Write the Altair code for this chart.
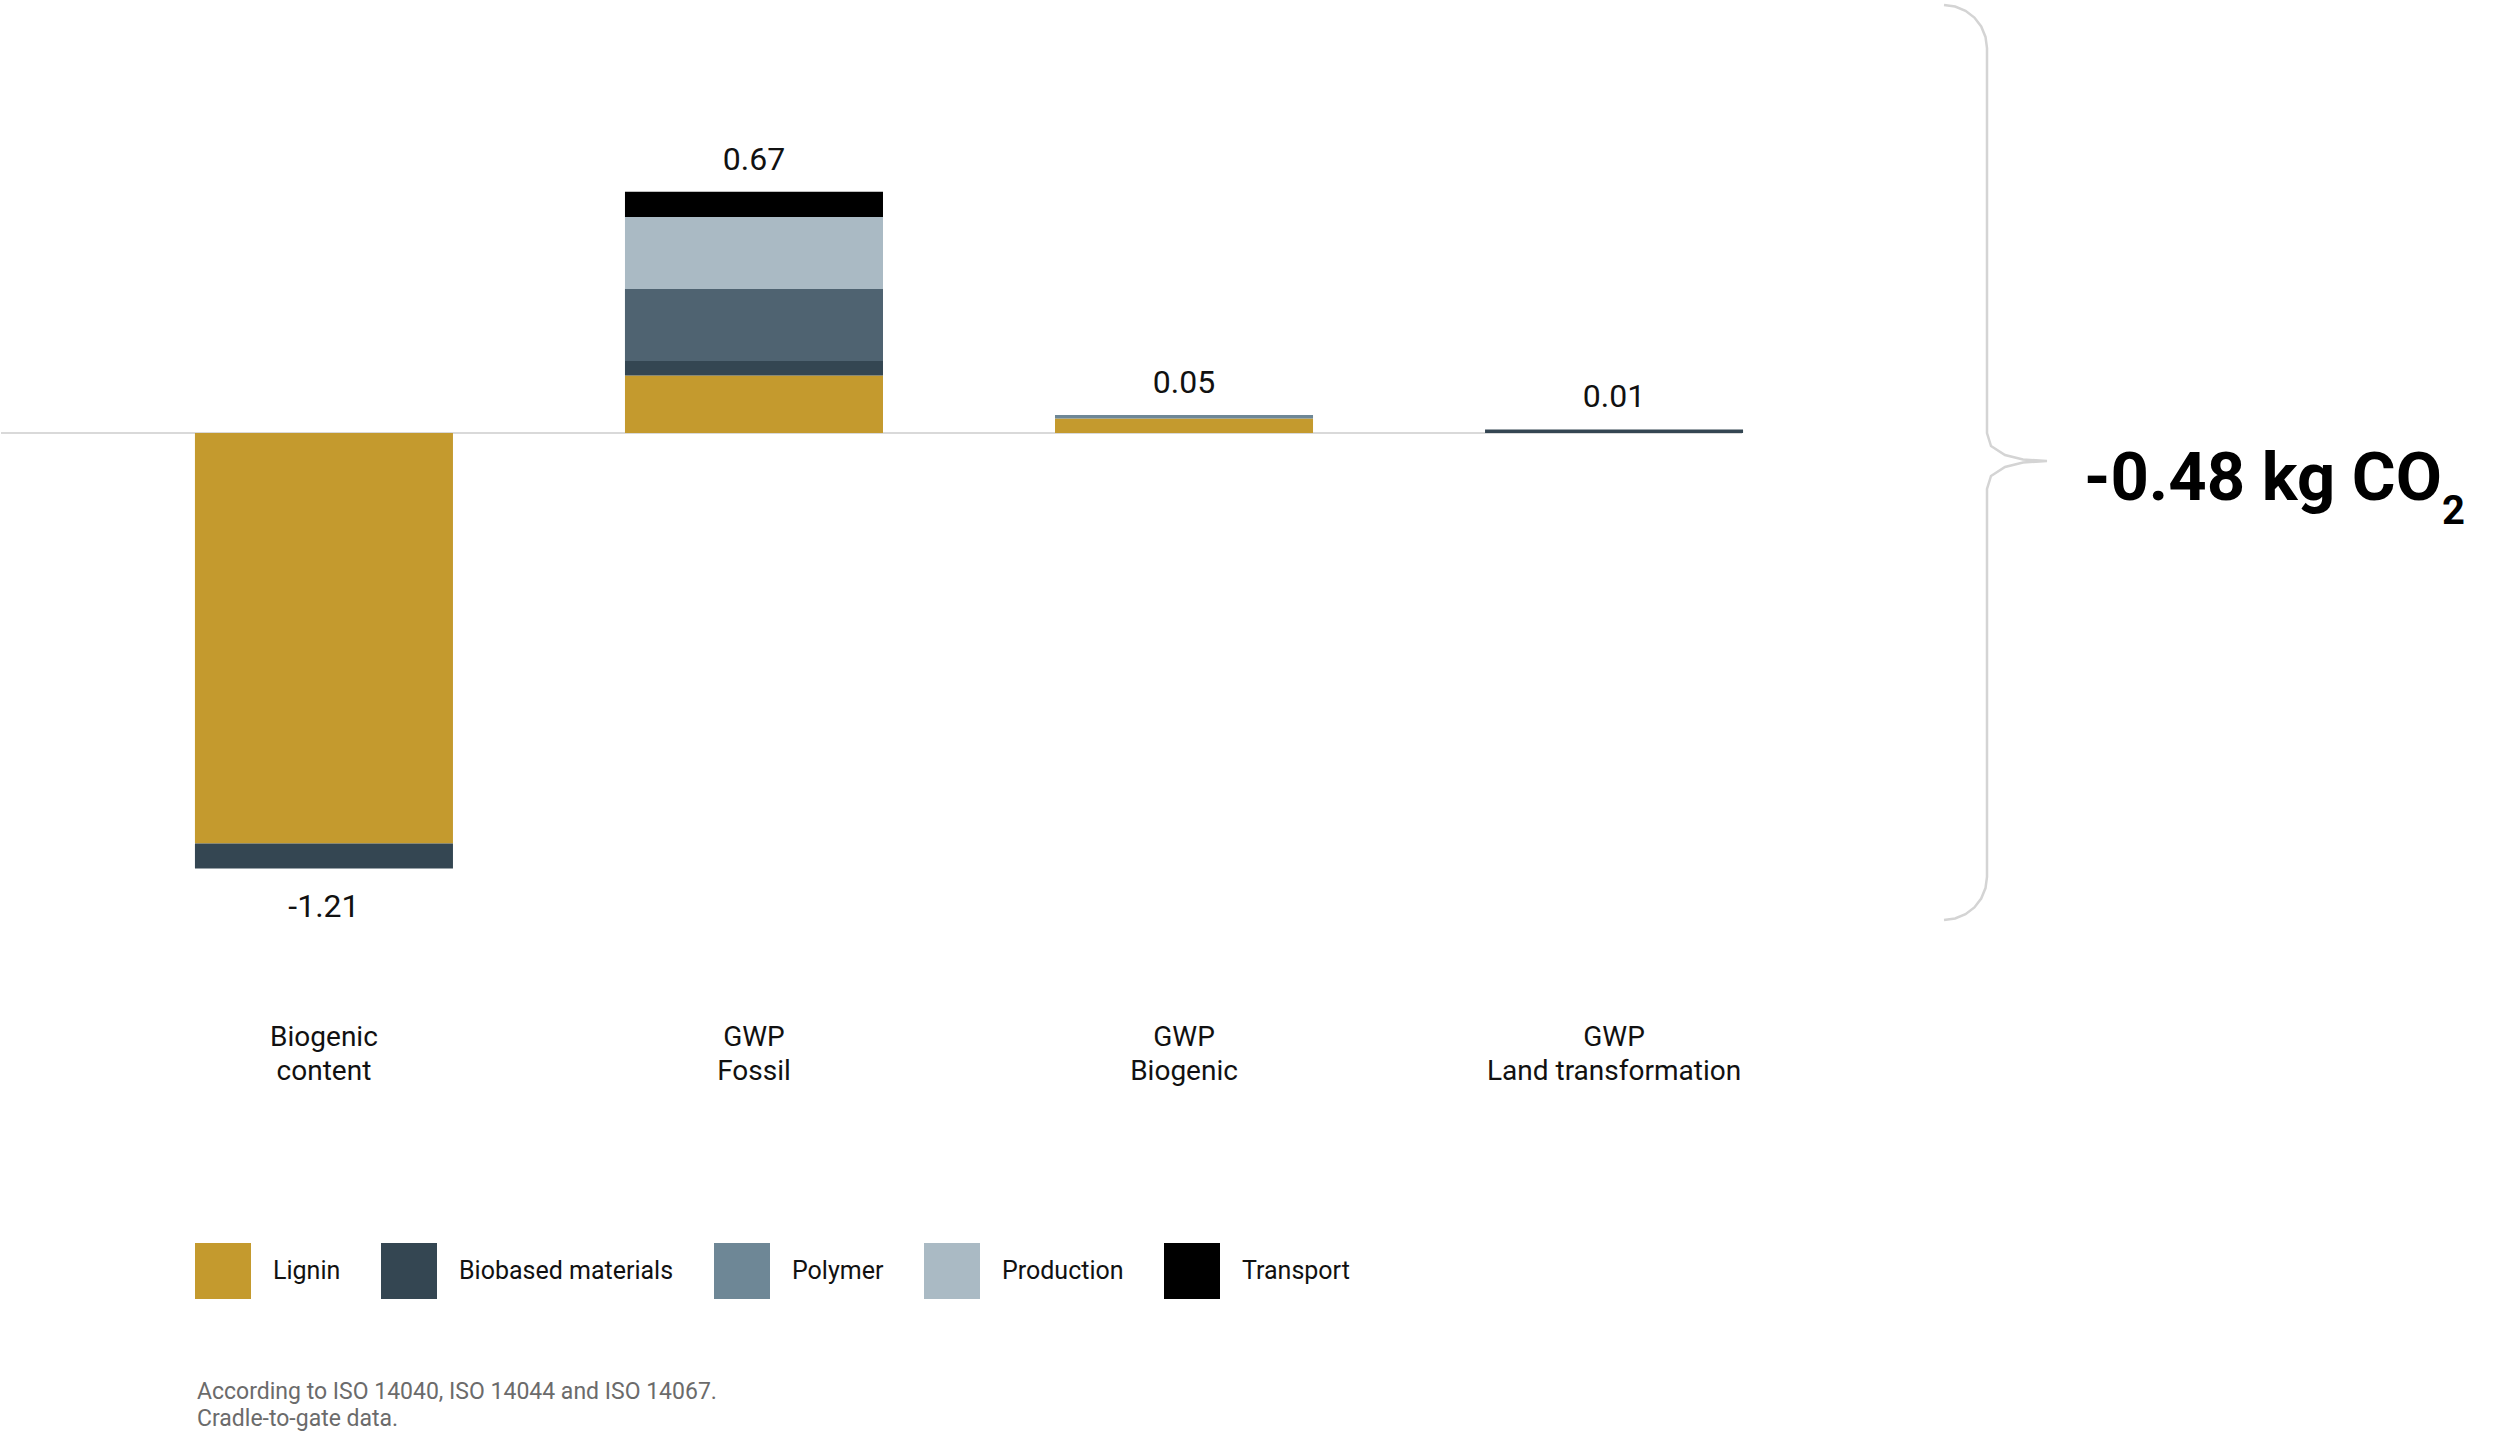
import altair as alt
import pandas as pd

# ---------------- data ----------------
categories = ["Biogenic content", "GWP Fossil", "GWP Biogenic", "GWP Land transformation"]
components = ["Lignin", "Biobased materials", "Polymer", "Production", "Transport"]

lignin = [-1.14, 0.16, 0.04, 0.0]
biobased = [-0.07, 0.04, 0.0, 0.01]
polymer = [0.0, 0.20, 0.01, 0.0]
production = [0.0, 0.20, 0.0, 0.0]
transport = [0.0, 0.07, 0.0, 0.0]
series = [lignin, biobased, polymer, production, transport]

legend_colors = ["#C49A2E", "#344652", "#6E8796", "#AABAC4", "#000000"]
fossil_polymer_color = "#4F6371"

footnote = ["According to ISO 14040, ISO 14044 and ISO 14067.", "Cradle-to-gate data."]

# ---------------- tables ----------------
rows = []
for ci, cat in enumerate(categories):
    for k, (comp, vals) in enumerate(zip(components, series)):
        if vals[ci] != 0:
            rows.append(dict(category=cat, component=comp, idx=k, value=vals[ci]))
bars_df = pd.DataFrame(rows)

totals = [round(sum(s[i] for s in series), 2) for i in range(len(categories))]
tot_df = pd.DataFrame({
    "category": categories,
    "total": totals,
    "label": [f"{t:.2f}" for t in totals],
})
grand_total = round(sum(totals), 2)

# ---------------- layout ----------------
W, H = 1936, 960
PX_PER_UNIT = 360.0
ZERO_Y = 430.0
Y_MAX = ZERO_Y / PX_PER_UNIT
Y_MIN = Y_MAX - H / PX_PER_UNIT
y_scale = alt.Scale(domain=[Y_MIN, Y_MAX], nice=False, zero=False)

x_enc = alt.X(
    "category:N",
    sort=categories,
    scale=alt.Scale(paddingInner=0.4, paddingOuter=0.451),
    axis=alt.Axis(
        title=None, domain=False, ticks=False, grid=False, labelAngle=0,
        labelFont="Roboto", labelFontSize=28, labelColor="#111111",
        labelLineHeight=34, labelPadding=60, labelLimit=0, labelOverlap=False,
        labelExpr="[substring(datum.label, 0, indexof(datum.label, ' ')), "
                  "substring(datum.label, indexof(datum.label, ' ') + 1)]",
    ),
)

zero_rule = alt.Chart(pd.DataFrame({"v": [0]})).mark_rule(
    color="#D9D9D9", strokeWidth=2
).encode(
    y=alt.Y("v:Q", scale=y_scale, axis=None),
    x=alt.value(0),
    x2=alt.value(1741),
)

stacked = alt.Chart(bars_df).transform_stack(
    stack="value",
    groupby=["category"],
    as_=["y_lo", "y_hi"],
    sort=[alt.SortField("idx", order="ascending")],
    offset="zero",
)

bars = stacked.mark_bar().encode(
    x=x_enc,
    y=alt.Y("y_lo:Q", scale=y_scale, axis=None),
    y2=alt.Y2("y_hi"),
    color=alt.Color(
        "component:N",
        sort=components,
        scale=alt.Scale(domain=components, range=legend_colors),
        legend=alt.Legend(
            orient="none", legendX=194, legendY=1240, direction="horizontal",
            title=None, symbolType="square", symbolSize=3136, symbolStrokeWidth=0,
            symbolOpacity=1, labelFont="Roboto", labelFontSize=25, labelColor="#111111",
            labelOffset=22, columnPadding=40, labelLimit=0, padding=0,
        ),
    ),
)

# the polymer band of the fossil bar is drawn in a darker shade in the original
polymer_shade = stacked.transform_filter(
    "datum.component === 'Polymer' && datum.category === 'GWP Fossil'"
).mark_bar(color=fossil_polymer_color).encode(
    x=x_enc,
    y=alt.Y("y_lo:Q", scale=y_scale, axis=None),
    y2=alt.Y2("y_hi"),
)

pos_labels = alt.Chart(tot_df).transform_filter("datum.total >= 0").mark_text(
    baseline="alphabetic", dy=-22, fontSize=32, font="Roboto", color="#111111"
).encode(
    x=x_enc,
    y=alt.Y("total:Q", scale=y_scale, axis=None),
    text="label:N",
)

neg_labels = alt.Chart(tot_df).transform_filter("datum.total < 0").mark_text(
    baseline="top", dy=23, fontSize=32, font="Roboto", color="#111111"
).encode(
    x=x_enc,
    y=alt.Y("total:Q", scale=y_scale, axis=None),
    text="label:N",
)

main = alt.layer(zero_rule, bars, polymer_shade, pos_labels, neg_labels)

# ---------------- decorations ----------------
brace_x = [1943, 1954.1, 1964.5, 1973.4, 1980.2, 1984.5, 1986,
           1986, 1990, 2004, 2022, 2046, 2022, 2004, 1990, 1986,
           1986, 1984.5, 1980.2, 1973.4, 1964.5, 1954.1, 1943]
brace_y = [2, 3.5, 7.8, 14.6, 23.5, 33.9, 45,
           430, 443, 452, 456.5, 458, 459.5, 464, 473, 486,
           874, 885.1, 895.5, 904.4, 911.2, 915.5, 917]
brace_df = pd.DataFrame({"bx": brace_x, "by": brace_y, "i": list(range(len(brace_x)))})

brace = alt.Chart(brace_df).mark_line(color="#D4D4D4", strokeWidth=2.5).encode(
    x=alt.X("bx:Q", scale=None, axis=None),
    y=alt.Y("by:Q", scale=None, axis=None),
    order="i:Q",
)

big_text = alt.Chart(pd.DataFrame({"t": [f"{grand_total:.2f} kg CO"]})).mark_text(
    align="left", baseline="alphabetic", fontSize=67, fontWeight="bold",
    font="Roboto", color="#000000"
).encode(x=alt.value(2083), y=alt.value(497), text="t:N")

sub_text = alt.Chart(pd.DataFrame({"t": ["2"]})).mark_text(
    align="left", baseline="alphabetic", fontSize=40, fontWeight="bold",
    font="Roboto", color="#000000"
).encode(x=alt.value(2441), y=alt.value(521), text="t:N")

foot = alt.Chart(pd.DataFrame({"t": ["\n".join(footnote)]})).mark_text(
    align="left", baseline="alphabetic", fontSize=23, lineHeight=27,
    lineBreak="\n", font="Roboto", color="#6B6B6B"
).encode(x=alt.value(196), y=alt.value(1396), text="t:N")

deco = alt.layer(brace, big_text, sub_text, foot)

chart = alt.layer(main, deco).resolve_scale(
    x="independent", y="independent"
).properties(
    width=W, height=H, padding=0
).configure(
    font="Roboto", background="white",
    view=alt.ViewConfig(stroke=None, strokeWidth=0),
)

chart.save("out.html", embed_options={"renderer": "svg", "actions": False})
